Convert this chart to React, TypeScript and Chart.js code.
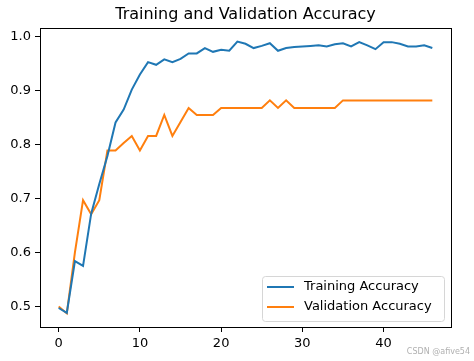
import React, { useEffect, useRef } from "react";
import { Chart, registerables } from "chart.js";

Chart.register(...registerables);

const epochs = [
  0, 1, 2, 3, 4, 5, 6, 7, 8, 9, 10, 11, 12, 13, 14, 15, 16, 17, 18, 19, 20, 21, 22, 23,
  24, 25, 26, 27, 28, 29, 30, 31, 32, 33, 34, 35, 36, 37, 38, 39, 40, 41, 42, 43, 44, 45, 46,
];

const trainAcc = [
  0.497, 0.488, 0.584, 0.575, 0.672, 0.727, 0.779, 0.841, 0.865, 0.902, 0.93, 0.953,
  0.948, 0.958, 0.953, 0.959, 0.969, 0.969, 0.979, 0.972, 0.976, 0.974, 0.991, 0.987,
  0.979, 0.983, 0.988, 0.974, 0.979, 0.981, 0.982, 0.983, 0.984, 0.982, 0.986, 0.988,
  0.982, 0.99, 0.984, 0.977, 0.99, 0.99, 0.987, 0.982, 0.982, 0.984, 0.979,
];

const valAcc = [
  0.5, 0.487, 0.6, 0.697, 0.671, 0.697, 0.789, 0.789, 0.803, 0.816, 0.789, 0.816,
  0.816, 0.855, 0.816, 0.842, 0.868, 0.855, 0.855, 0.855, 0.868, 0.868, 0.868, 0.868,
  0.868, 0.868, 0.882, 0.868, 0.882, 0.868, 0.868, 0.868, 0.868, 0.868, 0.868, 0.882,
  0.882, 0.882, 0.882, 0.882, 0.882, 0.882, 0.882, 0.882, 0.882, 0.882, 0.882,
];

const seriesLabels = ["Training Accuracy", "Validation Accuracy"];
const seriesColors = ["#1f77b4", "#ff7f0e"];
const xTicks = [0, 10, 20, 30, 40];
const yTicks = [0.5, 0.6, 0.7, 0.8, 0.9, 1.0];
const titleText = "Training and Validation Accuracy";
const watermark = "CSDN @afive54";

const FONT = "'DejaVu Sans', sans-serif";

const framePlugin = {
  id: "frameAndExtras",
  afterDraw(chart: any) {
    const { ctx, chartArea } = chart;
    const { left, right, top, bottom } = chartArea;
    ctx.save();
    // frame
    ctx.strokeStyle = "#000";
    ctx.lineWidth = 1;
    ctx.strokeRect(Math.round(left) + 0.5, Math.round(top) + 0.5, Math.round(right - left), Math.round(bottom - top));

    // title
    ctx.fillStyle = "#000";
    ctx.font = `16px ${FONT}`;
    ctx.textAlign = "center";
    ctx.textBaseline = "alphabetic";
    ctx.fillText(titleText, (left + right) / 2, 19);

    // legend
    ctx.font = `13px ${FONT}`;
    const boxW = 182;
    const boxH = 45;
    const bx = right - 7 - boxW;
    const by = bottom - 6 - boxH;
    ctx.beginPath();
    (ctx as any).roundRect(bx + 0.5, by + 0.5, boxW, boxH, 3);
    ctx.fillStyle = "rgba(255,255,255,0.8)";
    ctx.fill();
    ctx.strokeStyle = "#d6d6d6";
    ctx.lineWidth = 1;
    ctx.stroke();
    const ds = chart.data.datasets;
    ds.forEach((d: any, i: number) => {
      const cy = by + 11 + i * 20;
      ctx.strokeStyle = d.borderColor;
      ctx.lineWidth = 2;
      ctx.beginPath();
      ctx.moveTo(bx + 5, cy);
      ctx.lineTo(bx + 32, cy);
      ctx.stroke();
      ctx.fillStyle = "#000";
      ctx.textAlign = "left";
      ctx.textBaseline = "middle";
      ctx.fillText(d.label, bx + 42, cy);
    });

    // watermark
    ctx.font = `8px ${FONT}`;
    ctx.fillStyle = "#b0b0b0";
    ctx.textAlign = "right";
    ctx.textBaseline = "middle";
    ctx.fillText(watermark, 470, 352);
    ctx.restore();
  },
};

export default function App() {
  const ref = useRef<HTMLCanvasElement | null>(null);

  useEffect(() => {
    if (!ref.current) return;
    const chart = new Chart(ref.current, {
      type: "line",
      data: {
        datasets: [
          {
            label: seriesLabels[0],
            data: epochs.map((e, i) => ({ x: e, y: trainAcc[i] })),
            borderColor: seriesColors[0],
            backgroundColor: seriesColors[0],
            borderWidth: 2,
            pointRadius: 0,
            tension: 0,
          },
          {
            label: seriesLabels[1],
            data: epochs.map((e, i) => ({ x: e, y: valAcc[i] })),
            borderColor: seriesColors[1],
            backgroundColor: seriesColors[1],
            borderWidth: 2,
            pointRadius: 0,
            tension: 0,
          },
        ],
      },
      options: {
        responsive: false,
        animation: false,
        layout: { padding: { top: 28, right: 23, left: 0, bottom: 0 } },
        plugins: {
          legend: { display: false },
          title: { display: false },
          tooltip: { enabled: false },
        },
        scales: {
          x: {
            type: "linear",
            min: -2.3,
            max: 48.3,
            afterFit: (s: any) => {
              s.height = 34;
            },
            afterBuildTicks: (s: any) => {
              s.ticks = xTicks.map((v) => ({ value: v }));
            },
            grid: {
              display: true,
              drawOnChartArea: false,
              drawTicks: true,
              tickLength: 5,
              color: "#000",
              lineWidth: 1,
            },
            border: { display: true, color: "#000", width: 1 },
            ticks: {
              color: "#000",
              font: { family: FONT, size: 13 },
              padding: 4,
              maxRotation: 0,
              callback: (v: any) => String(v),
            },
          },
          y: {
            type: "linear",
            min: 0.4618,
            max: 1.0162,
            afterFit: (s: any) => {
              s.width = 40;
            },
            afterBuildTicks: (s: any) => {
              s.ticks = yTicks.map((v) => ({ value: v }));
            },
            grid: {
              display: true,
              drawOnChartArea: false,
              drawTicks: true,
              tickLength: 5,
              color: "#000",
              lineWidth: 1,
            },
            border: { display: true, color: "#000", width: 1 },
            ticks: {
              color: "#000",
              font: { family: FONT, size: 13 },
              padding: 4,
              callback: (v: any) => Number(v).toFixed(1),
            },
          },
        },
      },
      plugins: [framePlugin],
    });
    return () => chart.destroy();
  }, []);

  return (
    <div style={{ position: "absolute", left: 0, top: 0, width: 474, height: 361, background: "#fff" }}>
      <canvas ref={ref} width={474} height={361} />
    </div>
  );
}
